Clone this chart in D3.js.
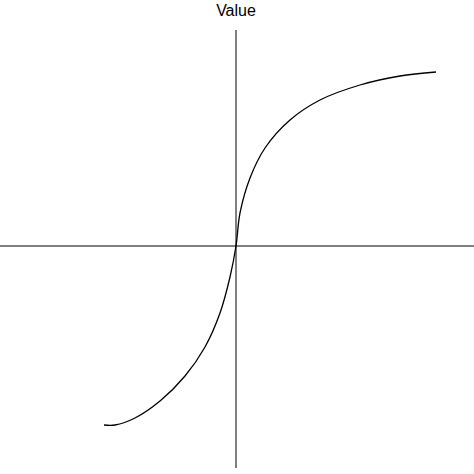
<!DOCTYPE html>
<html><head><meta charset="utf-8">
<script src="https://cdn.jsdelivr.net/npm/d3@7"></script>
<style>body{margin:0;background:#fff}</style></head>
<body><svg id="c" width="474" height="474"></svg>
<script>
const outcome = [-132,-121,-101,-76,-51,-31,-16,-6,0,4,14,29,54,84,124,164,200];
const value   = [-179,-179,-172,-155,-130,-101,-67,-31,0,33,68,98,126,146,161,170,174];
const axisLabel = "Value";

const svg = d3.select("#c");
const x = d3.scaleLinear().domain([-236,238]).range([0,474]);
const y = d3.scaleLinear().domain([-222,216]).range([468,30]);

svg.append("line").attr("x1",x(-236)).attr("x2",x(238)).attr("y1",y(0)).attr("y2",y(0))
  .attr("stroke","#000").attr("stroke-width",1);
svg.append("line").attr("x1",x(0)).attr("x2",x(0)).attr("y1",y(-222)).attr("y2",y(216))
  .attr("stroke","#000").attr("stroke-width",1);

const pts = outcome.map((o,i)=>[o,value[i]]);
svg.append("path").datum(pts)
  .attr("d", d3.line().x(d=>x(d[0])).y(d=>y(d[1])).curve(d3.curveCatmullRom.alpha(0.5)))
  .attr("fill","none").attr("stroke","#000").attr("stroke-width",1.3);

svg.append("text").attr("x",x(0)).attr("y",16).attr("text-anchor","middle")
  .attr("font-family","Liberation Sans, Arial, sans-serif").attr("font-size",16).text(axisLabel);
</script></body></html>
